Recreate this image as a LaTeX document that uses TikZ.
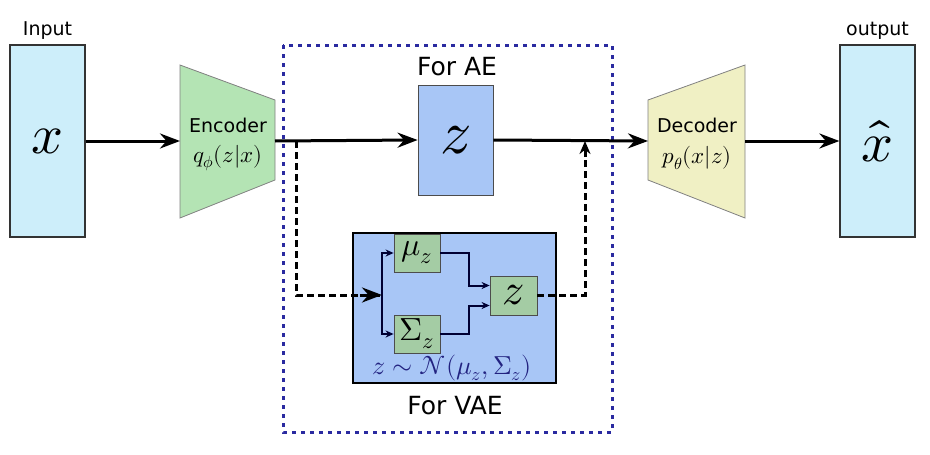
\documentclass[tikz,border=0pt]{standalone}
\usepackage{fontspec}
\setmainfont{DejaVu Sans}
\usepackage{unicode-math}
\setmathfont{Latin Modern Math}
\usetikzlibrary{arrows.meta}
\definecolor{ioc}{HTML}{CDEEFA}
\definecolor{encc}{HTML}{B4E4B4}
\definecolor{decc}{HTML}{F0F0C4}
\definecolor{zc}{HTML}{A8C6F6}
\definecolor{gc}{HTML}{A4CCA4}
\definecolor{dblue}{HTML}{2A2AA0}
\tikzset{
 io/.style={draw=black!80,fill=ioc,line width=1.2pt,minimum width=75pt,minimum height=192pt,inner sep=0pt},
 gbox/.style={draw=black!70,fill=gc,line width=0.8pt,minimum width=46pt,minimum height=38pt,inner sep=0pt},
 arr/.style={line width=3pt,-{Stealth[length=20pt,width=15pt]}},
 darr/.style={line width=3pt,dash pattern=on 7pt off 4pt},
 sarr/.style={line width=2pt,draw=black!80!blue,-{Stealth[length=8pt,width=7pt]}},
 lbl/.style={font=\fontsize{19}{19}\selectfont},
}
\begin{document}
\begin{tikzpicture}[x=1pt,y=-1pt]
\useasboundingbox (0,0) rectangle (930,455);
% input / output
\node[io] (in) at (47.5,141) {\fontsize{56}{56}\selectfont$x$};
\node[lbl] at (47.5,31) {Input};
\node[io] (out) at (877.5,141) {\fontsize{56}{56}\selectfont$\hat{x}$};
\node[lbl] at (877.5,31) {output};
% encoder
\draw[fill=encc,draw=black!50,line width=0.8pt] (180,65) -- (275,100) -- (275,180) -- (180,218) -- cycle;
\coordinate (encL) at (180,141); \coordinate (encR) at (275,141);
\node[font=\fontsize{19}{19}\selectfont] at (228,125) {Encoder};
\node[font=\fontsize{23}{23}\selectfont] at (228,158) {$q_\phi(z|x)$};
% decoder
\draw[fill=decc,draw=black!50,line width=0.8pt] (648,100) -- (745,65) -- (745,218) -- (648,180) -- cycle;
\coordinate (decL) at (648,141); \coordinate (decR) at (745,141);
\node[font=\fontsize{19}{19}\selectfont] at (697,125) {Decoder};
\node[font=\fontsize{23}{23}\selectfont] at (697,158) {$p_\theta(x|z)$};
% dashed AE frame
\draw[dblue,line width=3pt,dash pattern=on 4pt off 5pt] (283,45) rectangle (612,432);
\node[font=\fontsize{25}{25}\selectfont] at (457,67) {For AE};
\node[draw=black!70,fill=zc,line width=0.8pt,minimum width=75pt,minimum height=110pt,inner sep=0pt] (z) at (455.5,140) {\fontsize{62}{62}\selectfont$z$};
% VAE box
\node[draw=black,fill=zc,line width=2.5pt,minimum width=203pt,minimum height=150pt,inner sep=0pt] (vae) at (454.5,308) {};
\node[font=\fontsize{25}{25}\selectfont] at (455,406) {For VAE};
\node[gbox] (mu) at (417,253) {\fontsize{32}{32}\selectfont$\mu_z$};
\node[gbox] (sig) at (417,334) {\fontsize{32}{32}\selectfont$\Sigma_z$};
\node[gbox,minimum width=47pt,minimum height=39pt] (zz) at (513.5,295.5) {\fontsize{44}{44}\selectfont$z$};
\node[font=\fontsize{26}{26}\selectfont,text=dblue!80!black] at (452,368) {$z\sim\mathcal{N}(\mu_z,\Sigma_z)$};
\coordinate (br) at (382,295);
\draw[sarr] (br) |- (mu.west);
\draw[sarr] (br) |- (sig.west);
\draw[sarr] (mu.east) -- ++(29,0) |- ([yshift=10pt]zz.west);
\draw[sarr] (sig.east) -- ++(29,0) |- ([yshift=-10pt]zz.west);
% main arrows
\draw[arr] (in.east|-encL) -- (encL);
\draw[arr] (encR) -- (z.west);
\draw[arr] (z.east) -- (decL);
\draw[arr] (decR) -- (out.west|-decR);
% dashed VAE path
\coordinate (dsplit) at (296,141);
\coordinate (dup) at (585,141);
\draw[darr] (dsplit) |- (br);
\draw[line width=3pt,-{Stealth[length=20pt,width=15pt]}] (360,295) -- (br);
\draw[darr] (zz.east) -| ([yshift=-14pt]dup);
\draw[line width=3pt,-{Stealth[length=13pt,width=11pt]}] ([yshift=-16pt]dup) -- (dup);
\end{tikzpicture}
\end{document}
